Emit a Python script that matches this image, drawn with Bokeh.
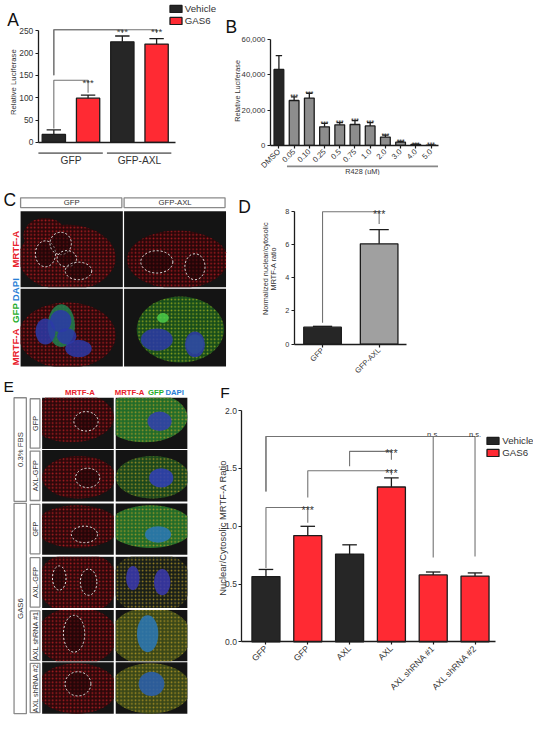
import math
from bokeh.plotting import figure
from bokeh.layouts import row, column
from bokeh.models import Range1d, FixedTicker, NumeralTickFormatter, Legend, LegendItem, LinearAxis
from bokeh.core.properties import value
from bokeh.embed import file_html
from bokeh.resources import INLINE

S = 0.97  # the whole figure is shrunk a little so it fits inside the page margin
FONT = "Liberation Sans"
INK = "#1c1c1c"
TXT = "#333333"
RED = "#ff2a33"
BLACK = "#262626"
GREY = "#8d8d8d"
BRK = "#737373"

# ---- A: luciferase, GFP vs GFP-AXL
a_groups = ["GFP", "GFP-AXL"]
a_vehicle = [18, 225]
a_vehicle_err = [10, 13]
a_gas6 = [99, 220]
a_gas6_err = [7, 12]
a_yticks = [0, 50, 100, 150, 200, 250]
a_brackets = [(0, 31, 1, 111, 139, "***"), (0, 150, 2, 245, 252, "***"), (0, 150, 3, 245, 252, "***")]

# ---- B: R428 dose response
b_doses = ["DMSO", "0.05", "0.10", "0.25", "0.5", "0.75", "1.0", "2.0", "3.0", "4.0", "5.0"]
b_values = [43000, 25400, 26800, 10500, 11600, 11800, 11000, 4700, 1800, 550, 180]
b_errs = [7800, 2100, 2700, 2000, 1300, 2200, 1900, 1100, 400, 200, 120]
b_stars = [""] + ["***"] * 10
b_yticks = [0, 20000, 40000, 60000]

# ---- C: image panel labels
c_columns = ["GFP", "GFP-AXL"]

# ---- D: nuclear/cytosolic ratio
d_labels = ["GFP", "GFP-AXL"]
d_values = [1.02, 6.03]
d_errs = [0.05, 0.86]
d_yticks = [0, 2, 4, 6, 8]
d_brackets = [(0, 1.28, 1, 7.22, 7.96, "***")]

# ---- E: image panel labels
e_rows = ["GFP", "AXL-GFP", "GFP", "AXL-GFP", "AXL shRNA #1", "AXL shRNA #2"]
e_groups = [("0.3% FBS", 2), ("GAS6", 4)]

# ---- F: nuclear/cytosolic MRTF-A ratio
f_labels = ["GFP", "GFP", "AXL", "AXL", "AXL shRNA #1", "AXL shRNA #2"]
f_treat = ["Vehicle", "GAS6", "Vehicle", "GAS6", "GAS6", "GAS6"]
f_values = [0.565, 0.92, 0.76, 1.34, 0.58, 0.57]
f_errs = [0.062, 0.08, 0.08, 0.078, 0.025, 0.027]
f_yticks = [0, 0.5, 1.0, 1.5, 2.0]
f_brackets = [(0, 0.64, 1, 1.03, 1.162, "***"), (1, 1.25, 3, 1.445, 1.48, "***"),
              (2, 1.52, 3, 1.575, 1.648, "***"), (0, 1.30, 4, 0.73, 1.777, "n.s."),
              (0, 1.30, 5, 0.74, 1.777, "n.s.")]


def px(v):
    return f"{v * S:.2f}px"


def panel(w, h, xmap=(0, 0, 1, 1), ymap=(0, 0, 1, 1)):
    # xmap / ymap: two (pixel, value) pairs; pixel y counts downward
    kx = (xmap[3] - xmap[1]) / (xmap[2] - xmap[0])
    ky = (ymap[3] - ymap[1]) / (ymap[2] - ymap[0])
    X = lambda u: xmap[1] + (u - xmap[0]) * kx
    Y = lambda v: ymap[1] + (v - ymap[0]) * ky
    p = figure(width=round(w * S), height=round(h * S),
               x_range=Range1d(X(0), X(w)), y_range=Range1d(Y(h), Y(0)),
               x_axis_type=None, y_axis_type=None,
               output_backend="svg", toolbar_location=None, tools="",
               min_border=0, outline_line_color=None)
    p.grid.visible = False
    return p, X, Y


def style(ax, size):
    ax.axis_line_color = INK
    ax.axis_line_width = 1.3
    ax.major_tick_line_color = INK
    ax.major_tick_line_width = 1.2
    ax.major_tick_in = 0
    ax.major_tick_out = 3
    ax.minor_tick_line_color = None
    ax.major_label_text_font = FONT
    ax.major_label_text_font_size = px(size)
    ax.major_label_text_color = TXT
    ax.major_label_standoff = 2


def axes(p, X, y_at, x_end, ytop, yticks, tsize, fmt=None, xlabels=None, xsize=8):
    ya = LinearAxis(fixed_location=X(y_at), bounds=(0, ytop), ticker=FixedTicker(ticks=yticks))
    style(ya, tsize)
    if fmt:
        ya.formatter = NumeralTickFormatter(format=fmt)
    p.add_layout(ya, "left")
    ticks = list(range(len(xlabels))) if xlabels else []
    xa = LinearAxis(fixed_location=0, bounds=(X(y_at), X(x_end)), ticker=FixedTicker(ticks=ticks))
    style(xa, xsize)
    if xlabels:
        xa.major_label_overrides = {i: lab for i, lab in enumerate(xlabels)}
        xa.major_label_orientation = math.pi / 4
    else:
        xa.major_tick_line_color = None
    p.add_layout(xa, "below")


def bars(p, xs, tops, errs, color, width, cap):
    r = p.vbar(x=xs, top=tops, bottom=0, width=width, fill_color=color, line_color=INK, line_width=1.3)
    ups = [t + e for t, e in zip(tops, errs)]
    p.segment(x0=xs, y0=tops, x1=xs, y1=ups, line_color=INK, line_width=1.3)
    p.segment(x0=[x - cap for x in xs], y0=ups, x1=[x + cap for x in xs], y1=ups,
              line_color=INK, line_width=1.3)
    return r


def label(p, x, y, txt, size, color=TXT, align="center", baseline="middle", angle=0,
          style_="normal", dy=0):
    p.text(x=[x], y=[y], text=[txt], text_font=value(FONT), text_font_size=value(px(size)),
           text_color=color, text_align=align, text_baseline=baseline, angle=angle,
           text_font_style=style_, y_offset=dy)


def brackets(p, specs, size):
    for xa, ya, xb, yb, top, lab in specs:
        p.line([xa, xa, xb, xb], [ya, top, top, yb], line_color=BRK, line_width=1.1)
        if lab == "n.s.":
            label(p, xb, top, lab, 7.8, baseline="alphabetic", dy=-1.5)
        else:
            label(p, xb, top, lab, size, baseline="alphabetic", dy=2)


def legend(p, rv, rg, x, top, h):
    leg = Legend(items=[LegendItem(label="Vehicle", renderers=[rv]),
                        LegendItem(label="GAS6", renderers=[rg])])
    leg.glyph_width = round(15 * S)
    leg.glyph_height = round(9 * S)
    leg.label_height = round(9 * S)
    leg.label_standoff = 2
    leg.spacing = 1
    leg.padding = 0
    leg.margin = 0
    leg.border_line_color = None
    leg.background_fill_alpha = 0
    leg.label_text_font = FONT
    leg.label_text_font_size = px(10)
    leg.label_text_color = TXT
    leg.location = (x * S, (h - top) * S - 21)
    p.add_layout(leg)


def blob(cx, cy, rx, ry, box, n=48):
    x0, y0, w, h = box
    xs, ys = [], []
    for i in range(n):
        t = 2 * math.pi * i / n
        xs.append(min(max(cx + rx * math.cos(t), x0), x0 + w))
        ys.append(min(max(cy + ry * math.sin(t), y0), y0 + h))
    return xs, ys


def micro(p, box, cells, fill, dots, nuclei, nuc_fill=None, extra=None):
    x0, y0, w, h = box
    p.quad(left=x0, right=x0 + w, top=y0, bottom=y0 + h, fill_color="#141414", line_color=None)
    for cx, cy, rx, ry in cells:
        xs, ys = blob(x0 + cx, y0 + cy, rx, ry, box)
        p.patch(xs, ys, fill_color=fill, fill_alpha=0.95, line_color=None,
                hatch_pattern="dot", hatch_color=dots, hatch_scale=3.6, hatch_weight=1,
                hatch_alpha=0.75)
    if extra:
        for cx, cy, rx, ry, col in extra:
            xs, ys = blob(x0 + cx, y0 + cy, rx, ry, box)
            p.patch(xs, ys, fill_color=col, fill_alpha=0.8, line_color=None)
    for cx, cy, ew, eh in nuclei:
        if nuc_fill is None:
            p.ellipse(x0 + cx, y0 + cy, width=ew, height=eh, fill_color="#1c0406", fill_alpha=0.5,
                      line_color="#e8e8e8", line_dash="2 2", line_width=1)
        else:
            p.ellipse(x0 + cx, y0 + cy, width=ew, height=eh, fill_color=nuc_fill,
                      fill_alpha=0.85, line_color=None)


# ================= A
pa, X, Y = panel(230, 180, (55, 0, 161, 3), (146, 0, 31, 250))
rv = bars(pa, [2 * i for i in range(len(a_groups))], a_vehicle, a_vehicle_err, BLACK, 0.68, 0.21)
rg = bars(pa, [2 * i + 1 for i in range(len(a_groups))], a_gas6, a_gas6_err, RED, 0.68, 0.21)
axes(pa, X, 39, 180, 250, a_yticks, 8.7)
brackets(pa, a_brackets, 10)
for g, name in enumerate(a_groups):
    pa.segment(x0=[2 * g - 0.45], y0=[Y(157)], x1=[2 * g + 1.43], y1=[Y(157)], line_color="#7a7a7a", line_width=1.6)
    label(pa, 2 * g + 0.5, Y(165), name, 10.5)
label(pa, X(13), Y(84), "Relative Luciferase", 8, angle=math.pi / 2)
label(pa, X(7), Y(20), "A", 18, color="#111", align="left", baseline="alphabetic")
legend(pa, rv, rg, 173, 5, 180)

# ================= B
pb, X, Y = panel(320, 180, (57.2, 0, 214.2, 10), (149, 0, 40, 60000))
xb = list(range(len(b_doses)))
bars(pb, xb, b_values, b_errs, [BLACK] + [GREY] * (len(b_doses) - 1), 0.64, 0.21)
pb.text(x=xb, y=[v + e for v, e in zip(b_values, b_errs)], text=b_stars, text_font=value(FONT),
        text_font_size=value(px(7)), text_color=TXT, text_align="center", text_baseline="alphabetic",
        y_offset=0)
axes(pb, X, 48.3, 221.7, 60000, b_yticks, 8, fmt="0,0", xlabels=b_doses, xsize=8)
pb.segment(x0=[0.53], y0=[Y(170.7)], x1=[10.46], y1=[Y(170.7)], line_color="#888888", line_width=1.8)
label(pb, (0.53 + 10.46) / 2, Y(176), "R428 (uM)", 7.5)
label(pb, X(14), Y(93), "Relative Luciferase", 7.5, angle=math.pi / 2)
label(pb, X(2), Y(27), "B", 18, color="#111", align="left", baseline="alphabetic")

# ================= C (micrographs)
pc, X, Y = panel(240, 205)
c_boxes = [(20.7, 36.7, 105.3, 78.3), (127.3, 36.7, 105, 78.3),
           (20.7, 116.7, 105.3, 80), (127.3, 116.7, 105, 80)]
c_nuc = [[(25.6, 44, 20.7, 26.7), (41.3, 33.3, 22, 23), (47.6, 49, 20, 16.7), (59.6, 61.6, 27.3, 18)],
         [(33.7, 52.3, 33, 23), (73, 57.3, 20.7, 26.7)]]
micro(pc, c_boxes[0], [(48, 48, 50, 34), (25, 25, 22, 18)], "#2e0709", "#d8242a", c_nuc[0])
micro(pc, c_boxes[1], [(55, 50, 52, 30)], "#2a0608", "#d02228", c_nuc[1])
micro(pc, c_boxes[2], [(48, 48, 50, 34)], "#2e0709", "#d8242a", c_nuc[0], nuc_fill="#2c3aa8",
      extra=[(42, 38, 14, 22, "#1f8a55")])
micro(pc, c_boxes[3], [(58, 42, 45, 34)], "#17501a", "#b8c020", c_nuc[1], nuc_fill="#2c3aa8",
      extra=[(40, 30, 6, 5, "#4cd24c"), (73, 57, 9, 10, "#3cc03c")])
for i, name in enumerate(c_columns):
    x0 = c_boxes[i][0]
    w = c_boxes[i][2]
    pc.quad(left=x0, right=x0 + w - 1, top=23, bottom=33, fill_color="white", line_color="#8a8a8a", line_width=1.3)
    label(pc, x0 + w / 2, 28.3, name, 8)
label(pc, 15, 76, "MRTF-A", 10, color="#e8212b", angle=math.pi / 2, style_="bold")
label(pc, 15, 176.7, "MRTF-A", 10, color="#e8212b", angle=math.pi / 2, style_="bold")
label(pc, 15, 141.7, "GFP", 10, color="#1fae2c", angle=math.pi / 2, style_="bold")
label(pc, 15, 117.5, "DAPI", 10, color="#2a7fd6", angle=math.pi / 2, style_="bold")
label(pc, 3, 25, "C", 18, color="#111", align="left", baseline="alphabetic")

# ================= D
pdd, X, Y = panel(310, 205, (91.7, 0, 150, 1), (173.7, 0, 36.7, 8))
bars(pdd, list(range(len(d_labels))), d_values, d_errs, [BLACK, "#a0a0a0"], 0.664, 0.17)
axes(pdd, X, 62.7, 178.3, 8, d_yticks, 7.5, xlabels=d_labels, xsize=7.8)
brackets(pdd, d_brackets, 11)
label(pdd, X(33.3), Y(96), "Normalized nuclear/cytosolic", 7.5, angle=math.pi / 2)
label(pdd, X(41.5), Y(96), "MRTF-A ratio", 7.5, angle=math.pi / 2)
label(pdd, X(5), Y(32), "D", 18, color="#111", align="left", baseline="alphabetic")

# ================= E (micrographs)
pe, X, Y = panel(220, 356)
e_cols = [43, 119]
e_tops = [24, 78, 133, 188, 243, 297]
e_cells = [(30, 20, 44, 26), (38, 28, 38, 22), (36, 24, 44, 22), (37, 27, 42, 33), (36, 27, 42, 30), (36, 27, 42, 26)]
e_nuc = [[(45.3, 24.3, 25, 20)], [(47, 28.7, 25, 20)], [(43.7, 32, 27, 17)],
         [(17.7, 22, 14, 25), (48, 26.3, 17, 27)], [(33, 24.5, 22, 38)], [(37, 22.2, 26.7, 25)]]
e_merge = ["#22702a", "#1a4a1c", "#22702a", "#181f18", "#3c4a18", "#3c4a18"]
e_blue = ["#3040b0", "#3040b8", "#2a78b8", "#3a38b0", "#2a78b8", "#2a60b0"]
for r in range(len(e_rows)):
    micro(pe, (e_cols[0], e_tops[r], 74, 53), [e_cells[r]], "#2e0709", "#d8242a", e_nuc[r])
    micro(pe, (e_cols[1], e_tops[r], 74, 53), [e_cells[r]], e_merge[r], "#c8a428", e_nuc[r], nuc_fill=e_blue[r])
    pe.quad(left=30.7, right=40.7, top=e_tops[r] + 1, bottom=e_tops[r] + 52, fill_color="white",
            line_color="#8a8a8a", line_width=1.3)
    label(pe, 35.9, e_tops[r] + 26.5, e_rows[r], 7.5, angle=math.pi / 2)
start = 0
for name, n in e_groups:
    y0 = e_tops[start]
    y1 = e_tops[start + n - 1] + 53
    pe.quad(left=14, right=26.7, top=y0, bottom=y1, fill_color="white", line_color="#8a8a8a", line_width=1.3)
    label(pe, 20.5, (y0 + y1) / 2, name, 8, angle=math.pi / 2)
    start += n
label(pe, 82, 19, "MRTF-A", 8, color="#e8212b", style_="bold")
label(pe, 118, 19, "MRTF-A", 8, color="#e8212b", style_="bold", align="left")
label(pe, 152.3, 19, "GFP", 8, color="#1fae2c", style_="bold", align="left")
label(pe, 170.3, 19, "DAPI", 8, color="#2a7fd6", style_="bold", align="left")
label(pe, 3, 12, "E", 16, color="#111", align="left", baseline="alphabetic")

# ================= F
pf, X, Y = panel(330, 356, (54.1, 0, 269.7, 5), (276, 0, 37.3, 2.0))
iv = [i for i, t in enumerate(f_treat) if t == "Vehicle"]
ig = [i for i, t in enumerate(f_treat) if t == "GAS6"]
rv = bars(pf, iv, [f_values[i] for i in iv], [f_errs[i] for i in iv], BLACK, 0.67, 0.174)
rg = bars(pf, ig, [f_values[i] for i in ig], [f_errs[i] for i in ig], RED, 0.67, 0.174)
axes(pf, X, 29.3, 290.7, 2.0, f_yticks, 8.8, fmt="0.0", xlabels=f_labels, xsize=9)
brackets(pf, f_brackets, 11)
label(pf, X(9.7), Y(158.3), "Nuclear/Cytosolic MRTF-A Ratio", 9.7, angle=math.pi / 2)
label(pf, X(7), Y(19), "F", 16, color="#111", align="left", baseline="alphabetic")
legend(pf, rv, rg, 280.7, 65, 356)

layout = column(row(pa, pb), row(pc, pdd), row(pe, pf))
open("out.html", "w").write(file_html(layout, INLINE, "Figure"))
